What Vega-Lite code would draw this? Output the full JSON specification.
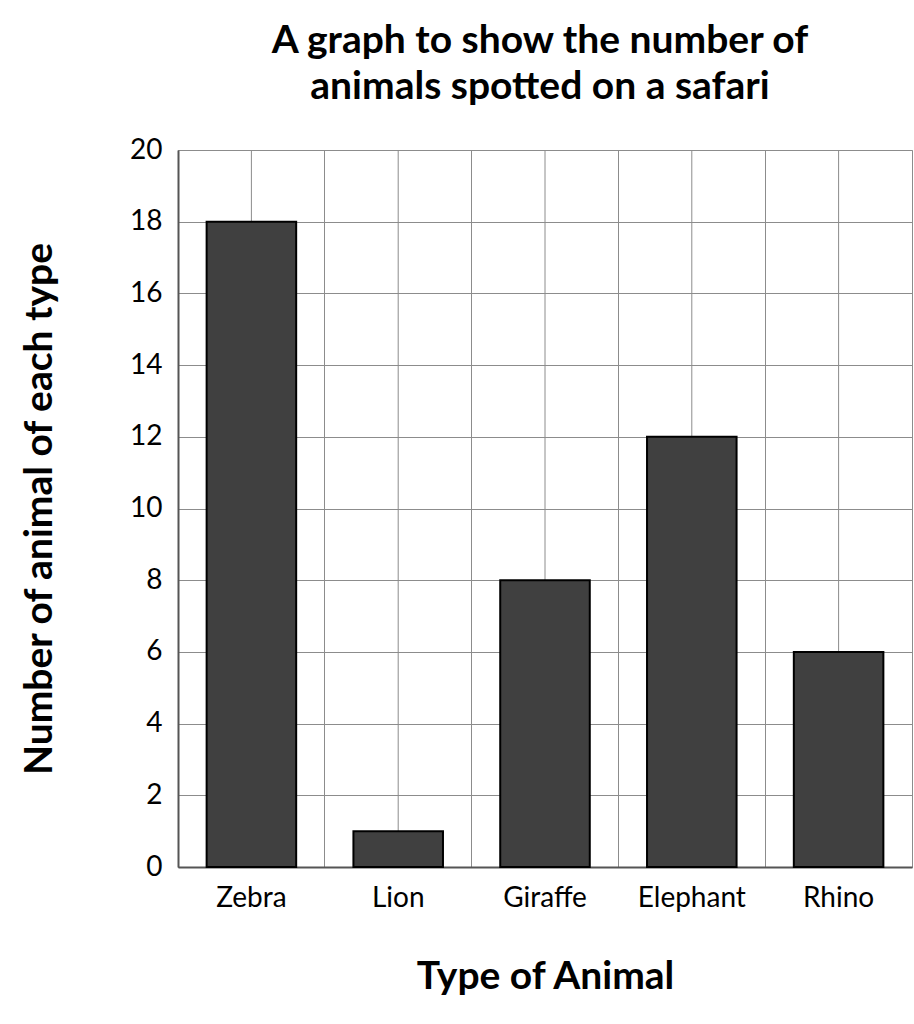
{
  "$schema": "https://vega.github.io/schema/vega-lite/v6.json",
  "autosize": "none",
  "width": 734,
  "height": 717,
  "padding": {"left": 178, "top": 150, "right": 2, "bottom": 157},
  "background": "white",
  "title": {
    "text": ["A graph to show the number of", "animals spotted on a safari"],
    "font": "Lato",
    "fontSize": 39,
    "fontWeight": "bold",
    "lineHeight": 46,
    "offset": 29,
    "dx": -5,
    "color": "black"
  },
  "data": {
    "values": [
      {"animal": "Zebra", "count": 18},
      {"animal": "Lion", "count": 1},
      {"animal": "Giraffe", "count": 8},
      {"animal": "Elephant", "count": 12},
      {"animal": "Rhino", "count": 6}
    ]
  },
  "encoding": {
    "x": {
      "field": "animal",
      "type": "nominal",
      "sort": null,
      "scale": {"paddingInner": 0, "paddingOuter": 0},
      "title": "Type of Animal",
      "axis": {
        "grid": true,
        "bandPosition": 0,
        "ticks": false,
        "labelAngle": 0,
        "labelPadding": 17,
        "titlePadding": 45
      }
    }
  },
  "layer": [
    {
      "mark": {"type": "rule", "color": "#8c8c8c", "strokeWidth": 1}
    },
    {
      "mark": {
        "type": "bar",
        "width": {"band": 0.61},
        "fill": "#404040",
        "stroke": "black",
        "strokeWidth": 2
      },
      "encoding": {
        "y": {
          "field": "count",
          "type": "quantitative",
          "scale": {"domain": [0, 20]},
          "title": "Number of animal of each type",
          "axis": {
            "values": [0, 2, 4, 6, 8, 10, 12, 14, 16, 18, 20],
            "ticks": false,
            "labelPadding": 16,
            "titlePadding": 70
          }
        }
      }
    }
  ],
  "config": {
    "view": {"stroke": "#8c8c8c", "strokeWidth": 1},
    "axis": {
      "labelFont": "Lato",
      "labelFontSize": 28,
      "labelColor": "black",
      "titleFont": "Lato",
      "titleFontSize": 39,
      "titleFontWeight": "bold",
      "titleColor": "black",
      "gridColor": "#8c8c8c",
      "gridWidth": 1,
      "gridOpacity": 1,
      "domainColor": "#555555",
      "domainWidth": 2
    }
  }
}
